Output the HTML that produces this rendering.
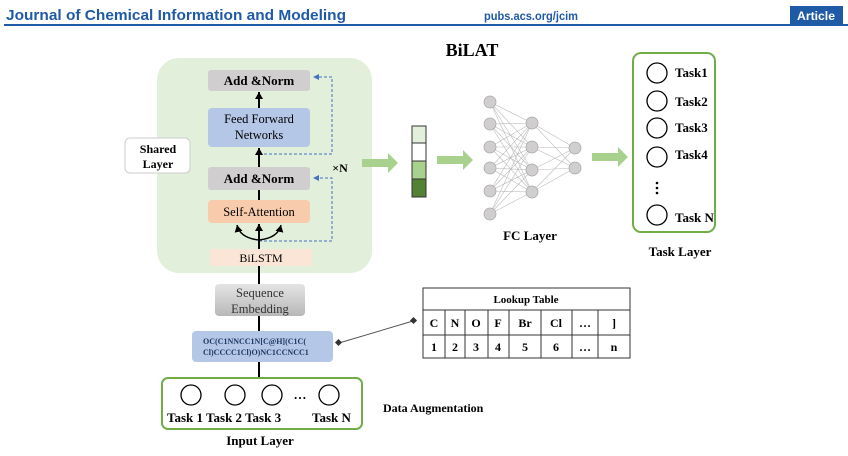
<!DOCTYPE html><html><head><style>body{margin:0;background:#fff}svg{display:block}</style></head><body>
<svg width="848" height="456" viewBox="0 0 848 456" xmlns="http://www.w3.org/2000/svg" font-family="Liberation Serif, serif">
<defs>
<marker id="ab" markerUnits="userSpaceOnUse" markerWidth="8" markerHeight="8" refX="7" refY="4" orient="auto"><path d="M0,0L7,4L0,8z" fill="#000"/></marker>
<marker id="abl" markerUnits="userSpaceOnUse" markerWidth="7" markerHeight="7" refX="6" refY="3" orient="auto"><path d="M0,0L6,3L0,6z" fill="#4472c4"/></marker>
<linearGradient id="sg" x1="0" y1="0" x2="0" y2="1"><stop offset="0" stop-color="#e4e4e4"/><stop offset="1" stop-color="#b8b8b8"/></linearGradient>
</defs>
<text x="6" y="20" font-family="Liberation Sans, sans-serif" font-size="15" font-weight="bold" fill="#1f5aa6" textLength="340" lengthAdjust="spacingAndGlyphs">Journal of Chemical Information and Modeling</text>
<text x="484" y="20" font-family="Liberation Sans, sans-serif" font-size="12" font-weight="bold" fill="#1f5aa6" textLength="94" lengthAdjust="spacingAndGlyphs">pubs.acs.org/jcim</text>
<rect x="790" y="6" width="53" height="19" fill="#1f5aa6"/>
<text x="816" y="20" text-anchor="middle" font-family="Liberation Sans, sans-serif" font-size="12" font-weight="bold" fill="#fff" textLength="38" lengthAdjust="spacingAndGlyphs">Article</text>
<rect x="4" y="24" width="844" height="2" fill="#1f5aa6"/>
<text x="472" y="56" text-anchor="middle" font-size="18" font-weight="bold">BiLAT</text>
<rect x="157" y="58" width="215" height="215" rx="22" fill="#e2efda"/>
<rect x="125" y="138" width="65" height="35" rx="5" fill="#fff" stroke="#ccc"/>
<text x="158" y="153" text-anchor="middle" font-size="12" font-weight="bold">Shared</text>
<text x="158" y="168" text-anchor="middle" font-size="12" font-weight="bold">Layer</text>
<g stroke="#4472c4" stroke-width="1" stroke-dasharray="3,2" fill="none">
<path d="M259,154H332V77H313" marker-end="url(#abl)"/>
<path d="M259,241H332V178H313" marker-end="url(#abl)"/>
</g>
<g stroke="#000" stroke-width="2" fill="none">
<line x1="259" y1="380" x2="259" y2="266"/>
<line x1="259" y1="249" x2="259" y2="224" marker-end="url(#ab)"/>
<line x1="259" y1="200" x2="259" y2="190"/>
<line x1="259" y1="167" x2="259" y2="148" marker-end="url(#ab)"/>
<line x1="259" y1="108" x2="259" y2="92" marker-end="url(#ab)"/>
<path d="M259,240 Q240,238 237,225" stroke-width="1.5" marker-end="url(#ab)"/>
<path d="M259,240 Q278,238 281,225" stroke-width="1.5" marker-end="url(#ab)"/>
</g>
<rect x="208" y="70" width="102" height="21" rx="3" fill="#d0cece"/>
<text x="259" y="85" text-anchor="middle" font-size="13" font-weight="bold">Add &amp;Norm</text>
<rect x="208" y="108" width="102" height="39" rx="4" fill="#b4c7e7"/>
<text x="259" y="123" text-anchor="middle" font-size="12.5">Feed Forward</text>
<text x="259" y="139" text-anchor="middle" font-size="12.5">Networks</text>
<rect x="208" y="167" width="102" height="23" rx="3" fill="#d0cece"/>
<text x="259" y="183" text-anchor="middle" font-size="13" font-weight="bold">Add &amp;Norm</text>
<rect x="208" y="200" width="102" height="23" rx="4" fill="#f8cbad"/>
<text x="259" y="216" text-anchor="middle" font-size="12.5">Self-Attention</text>
<rect x="210" y="249" width="102" height="17" fill="#fbe5d6"/>
<text x="261" y="262" text-anchor="middle" font-size="12">BiLSTM</text>
<text x="340" y="172" text-anchor="middle" font-size="12" font-weight="bold">×N</text>
<g fill="#a9d18e">
<path d="M362,159H388V153L398,163L388,173V167H362z"/>
<path d="M437,156H463V150L473,160L463,170V164H437z"/>
<path d="M592,153H618V147L628,157L618,167V161H592z"/>
</g>
<g stroke="#333" stroke-width="1">
<rect x="412" y="126" width="14" height="17" fill="#e2efda"/>
<rect x="412" y="143" width="14" height="18" fill="#fff"/>
<rect x="412" y="161" width="14" height="18" fill="#a9d18e"/>
<rect x="412" y="179" width="14" height="18" fill="#548235"/>
</g>
<g stroke="#bbb" stroke-width="0.6">
<path d="M490,102L532,123M490,102L532,147M490,102L532,170M490,102L532,192M490,124L532,123M490,124L532,147M490,124L532,170M490,124L532,192M490,147L532,123M490,147L532,147M490,147L532,170M490,147L532,192M490,168L532,123M490,168L532,147M490,168L532,170M490,168L532,192M490,191L532,123M490,191L532,147M490,191L532,170M490,191L532,192M490,214L532,123M490,214L532,147M490,214L532,170M490,214L532,192M532,123L575,148M532,123L575,168M532,147L575,148M532,147L575,168M532,170L575,148M532,170L575,168M532,192L575,148M532,192L575,168"/>
</g>
<g fill="#d0cece" stroke="#aaa" stroke-width="0.8">
<circle cx="490" cy="102" r="6"/><circle cx="490" cy="124" r="6"/><circle cx="490" cy="147" r="6"/><circle cx="490" cy="168" r="6"/><circle cx="490" cy="191" r="6"/><circle cx="490" cy="214" r="6"/>
<circle cx="532" cy="123" r="6"/><circle cx="532" cy="147" r="6"/><circle cx="532" cy="170" r="6"/><circle cx="532" cy="192" r="6"/>
<circle cx="575" cy="148" r="6"/><circle cx="575" cy="168" r="6"/>
</g>
<text x="530" y="240" text-anchor="middle" font-size="13" font-weight="bold">FC Layer</text>
<rect x="633" y="53" width="82" height="179" rx="8" fill="#fff" stroke="#70ad47" stroke-width="2"/>
<g fill="none" stroke="#000" stroke-width="1.3">
<circle cx="657" cy="73" r="10"/><circle cx="657" cy="101" r="10"/><circle cx="657" cy="128" r="10"/><circle cx="657" cy="157" r="10"/><circle cx="657" cy="215" r="10"/>
</g>
<g font-size="13" font-weight="bold">
<text x="675" y="77">Task1</text><text x="675" y="106">Task2</text><text x="675" y="132">Task3</text><text x="675" y="159">Task4</text><text x="675" y="222">Task N</text>
</g>
<g fill="#000"><circle cx="657" cy="183" r="1.3"/><circle cx="657" cy="188" r="1.3"/><circle cx="657" cy="193" r="1.3"/></g>
<text x="680" y="256" text-anchor="middle" font-size="13" font-weight="bold">Task Layer</text>
<rect x="215" y="284" width="90" height="32" rx="4" fill="url(#sg)"/>
<text x="260" y="297" text-anchor="middle" font-size="12.5" fill="#333">Sequence</text>
<text x="260" y="313" text-anchor="middle" font-size="12.5" fill="#333">Embedding</text>
<rect x="192" y="331" width="141" height="31" rx="4" fill="#b4c7e7"/>
<text x="203" y="344" font-size="8" fill="#1f3864" font-weight="bold">OC(C1NNCC1N[C@H](C1C(</text>
<text x="203" y="355" font-size="8" fill="#1f3864" font-weight="bold">Cl)CCCC1Cl)O)NC1CCNCC1</text>
<rect x="162" y="378" width="200" height="51" rx="6" fill="#fff" stroke="#70ad47" stroke-width="2"/>
<g fill="none" stroke="#000" stroke-width="1.3">
<circle cx="191" cy="395" r="10"/><circle cx="235" cy="395" r="10"/><circle cx="272" cy="395" r="10"/><circle cx="329" cy="395" r="10"/>
</g>
<text x="300" y="399" text-anchor="middle" font-size="13" font-weight="bold">…</text>
<text x="167" y="422" font-size="13" font-weight="bold">Task 1 Task 2 Task 3</text>
<text x="312" y="422" font-size="13" font-weight="bold">Task N</text>
<text x="260" y="445" text-anchor="middle" font-size="13" font-weight="bold">Input Layer</text>
<text x="383" y="412" font-size="12" font-weight="bold">Data Augmentation</text>
<line x1="339" y1="343" x2="413" y2="321" stroke="#555" stroke-width="1"/>
<rect x="336" y="340" width="5" height="5" transform="rotate(45 338.5 342.5)" fill="#333"/>
<rect x="411" y="318" width="5" height="5" transform="rotate(45 413.5 320.5)" fill="#333"/>
<g stroke="#333" stroke-width="1" fill="#fff">
<rect x="423" y="288" width="207" height="70"/>
<line x1="423" y1="310" x2="630" y2="310"/><line x1="423" y1="335" x2="630" y2="335"/>
<path d="M445,310V358M465,310V358M488,310V358M509,310V358M541,310V358M572,310V358M598,310V358" fill="none"/>
</g>
<text x="526" y="303" text-anchor="middle" font-size="11" font-weight="bold">Lookup Table</text>
<g font-size="12" font-weight="bold" text-anchor="middle">
<text x="434" y="327">C</text><text x="455" y="327">N</text><text x="476" y="327">O</text><text x="498" y="327">F</text><text x="525" y="327">Br</text><text x="556" y="327">Cl</text><text x="585" y="327">…</text><text x="614" y="327">]</text>
<text x="434" y="351">1</text><text x="455" y="351">2</text><text x="476" y="351">3</text><text x="498" y="351">4</text><text x="525" y="351">5</text><text x="556" y="351">6</text><text x="585" y="351">…</text><text x="614" y="351">n</text>
</g>
</svg>
</body></html>
